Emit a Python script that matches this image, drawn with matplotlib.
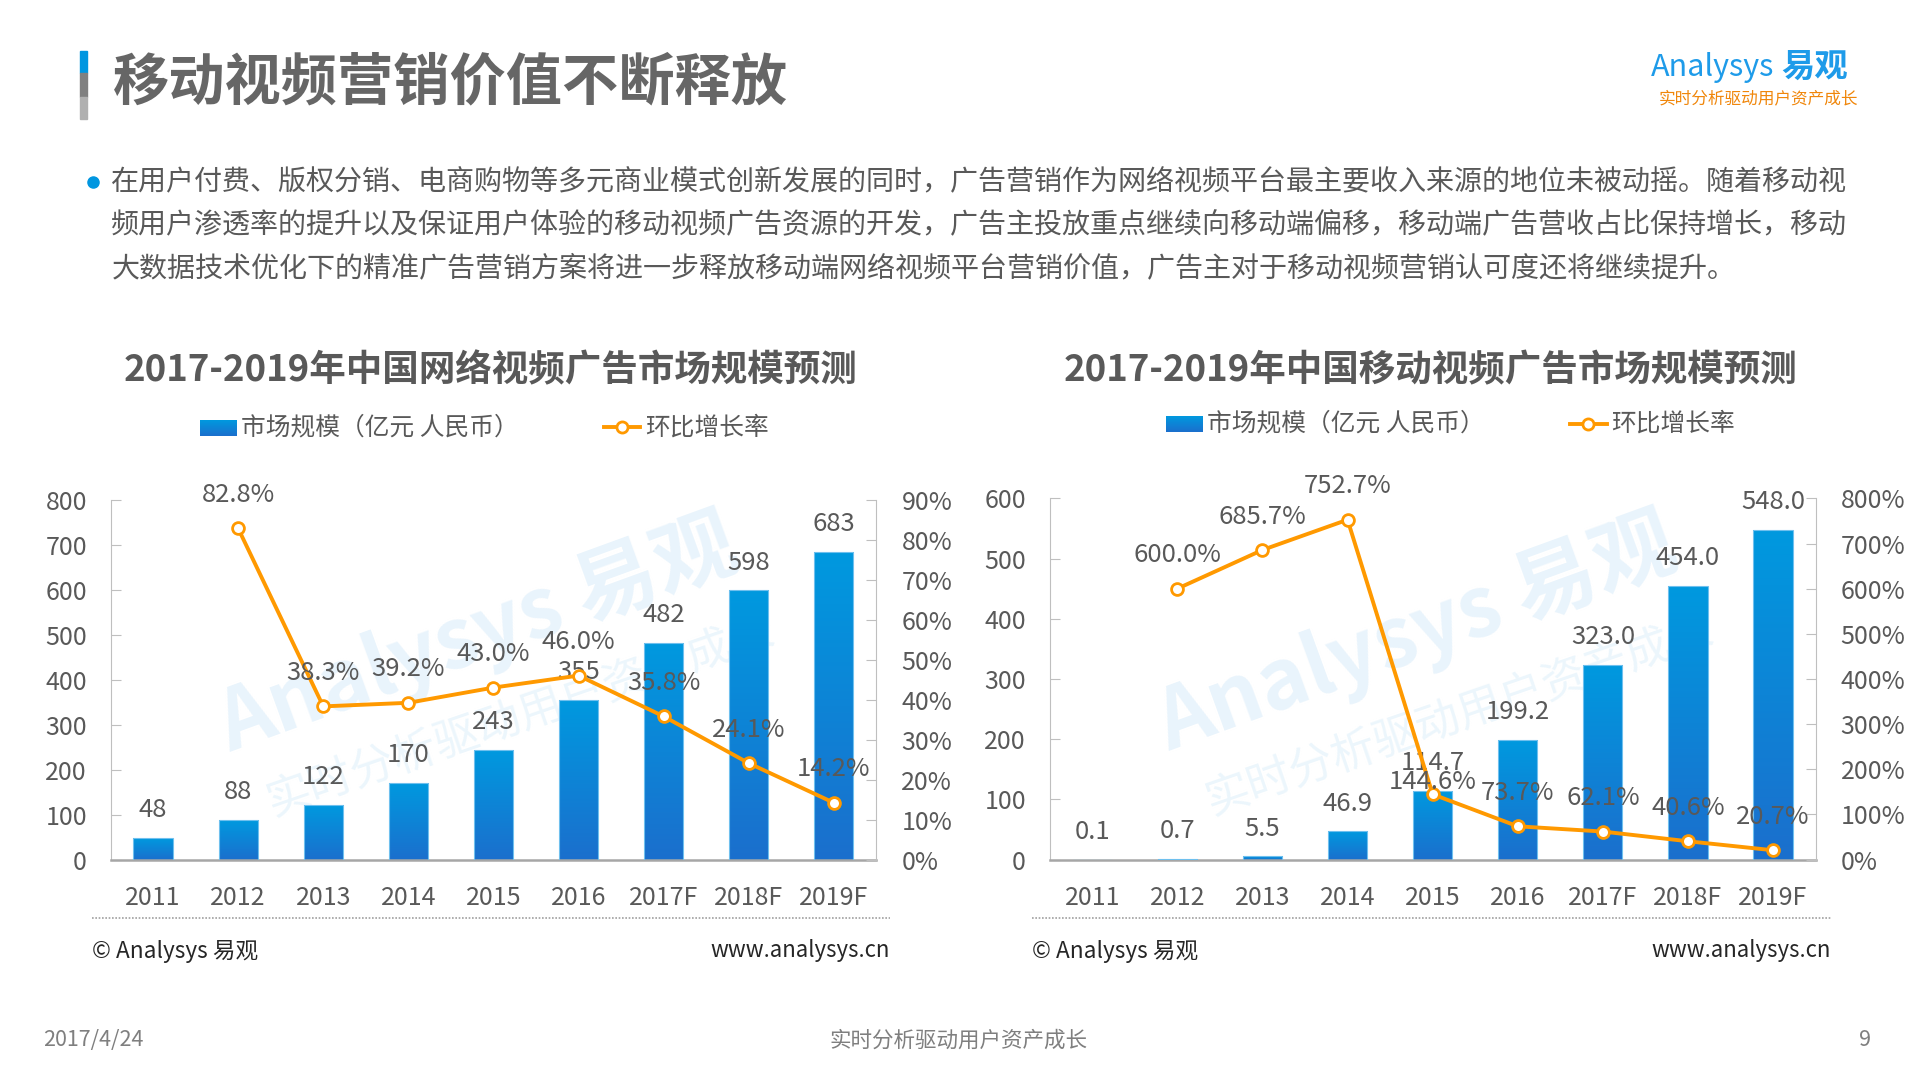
import numpy as np
import matplotlib
matplotlib.use('Agg')
import matplotlib.pyplot as plt
from matplotlib.colors import LinearSegmentedColormap
from matplotlib.lines import Line2D
from matplotlib.patches import Rectangle
from matplotlib.ticker import PercentFormatter, MultipleLocator

plt.rcParams['font.family'] = ['Noto Sans CJK SC', 'DejaVu Sans']

# --- data ---
years = ['2011', '2012', '2013', '2014', '2015', '2016', '2017F', '2018F', '2019F']

web_size = [48, 88, 122, 170, 243, 355, 482, 598, 683]
web_growth = [np.nan, 82.8, 38.3, 39.2, 43.0, 46.0, 35.8, 24.1, 14.2]

mob_size = [0.1, 0.7, 5.5, 46.9, 114.7, 199.2, 323.0, 454.0, 548.0]
mob_growth = [np.nan, 600.0, 685.7, 752.7, 144.6, 73.7, 62.1, 40.6, 20.7]

title = '移动视频营销价值不断释放'
paragraph = [
    '在用户付费、版权分销、电商购物等多元商业模式创新发展的同时，广告营销作为网络视频平台最主要收入来源的地位未被动摇。随着移动视',
    '频用户渗透率的提升以及保证用户体验的移动视频广告资源的开发，广告主投放重点继续向移动端偏移，移动端广告营收占比保持增长，移动',
    '大数据技术优化下的精准广告营销方案将进一步释放移动端网络视频平台营销价值，广告主对于移动视频营销认可度还将继续提升。',
]
chart_titles = ['2017-2019年中国网络视频广告市场规模预测', '2017-2019年中国移动视频广告市场规模预测']
legend_bar = '市场规模（亿元 人民币）'
legend_line = '环比增长率'

# --- style ---
GRAY = '#595959'
ORANGE = '#FF9900'
AXIS = '#BFBFBF'
bar_cmap = LinearSegmentedColormap.from_list('bar', ['#1B6FCD', '#0099DF'])
grad = np.linspace(0, 1, 256).reshape(-1, 1)

W, H = 1568, 882  # layout measured on a 1568x882 copy


def fx(x):
    return x / W


def fy(y):
    return 1 - y / H


fig = plt.figure(figsize=(19.2, 10.8), dpi=100)

# title with the three-colour accent bar
for y0, y1, c in [(42, 60, '#0096E0'), (60, 79, '#808080'), (79, 97, '#B0B0B0')]:
    fig.patches.append(Rectangle((fx(65), fy(y1)), fx(6), (y1 - y0) / H,
                                 transform=fig.transFigure, color=c))
fig.text(fx(92), fy(68), title, fontsize=40.5, fontweight='bold', color='#666666', va='center')

# logo
fig.text(fx(1449), fy(55), 'Analysys', fontsize=22, style='italic', color='#1E9BE9',
         ha='right', va='center')
fig.text(fx(1455), fy(55), '易观', fontsize=24, fontweight='bold', color='#1E9BE9', va='center')
fig.text(fx(1436), fy(81), '实时分析驱动用户资产成长', fontsize=12, style='italic',
         color='#F0860A', ha='center', va='center')

# paragraph
fig.add_artist(Line2D([fx(76)], [fy(149)], marker='o', markersize=8, color='#0096E0',
                      transform=fig.transFigure))
for i, line in enumerate(paragraph):
    fig.text(fx(91), fy(149 + 35 * i), line, fontsize=20.2, fontweight='light',
             color=GRAY, va='center')


def draw_chart(ax, sizes, growth, ymax, pmax, pstep, fmt, chart_title, title_x,
               legend_x, legend_y, pct_dy):
    x = np.arange(len(years))
    bars = ax.bar(x, sizes, width=0.46, color='none', edgecolor='#6FC0EE', linewidth=0.8, zorder=3)
    for b in bars:
        im = ax.imshow(grad, cmap=bar_cmap, aspect='auto', origin='lower',
                       extent=[b.get_x(), b.get_x() + b.get_width(), 0, b.get_height()], zorder=2)
        im.set_clip_path(b)
    for xi, v in zip(x, sizes):
        ax.annotate(fmt.format(v), (xi, v), xytext=(0, 20), textcoords='offset points',
                    ha='center', va='center', fontsize=18.5, color=GRAY, zorder=5)
    ax.set_xlim(-0.5, len(years) - 0.5)
    ax.set_ylim(0, ymax)
    ax.yaxis.set_major_locator(MultipleLocator(100))
    ax.set_xticks(x)
    ax.set_xticklabels(years)
    ax.tick_params(axis='x', length=0, labelsize=18, labelcolor=GRAY, pad=18)
    ax.tick_params(axis='y', direction='in', length=7, color=AXIS, labelsize=18,
                   labelcolor=GRAY, pad=17)
    ax.spines['top'].set_visible(False)
    ax.spines['right'].set_visible(False)
    ax.spines['left'].set_color(AXIS)
    ax.spines['bottom'].set_color('#A6A6A6')
    ax.spines['bottom'].set_linewidth(1.8)

    # watermark
    ax.text(0.48, 0.62, 'Analysys 易观', transform=ax.transAxes, fontsize=60, fontweight='bold',
            color='#E9F4FC', rotation=20, ha='center', va='center', zorder=0)
    ax.text(0.535, 0.40, '实时分析驱动用户资产成长', transform=ax.transAxes, fontsize=32,
            style='italic', color='#ECF6FC', rotation=19, ha='center', va='center', zorder=0)

    ax2 = ax.twinx()
    ax2.plot(x, growth, color=ORANGE, lw=2.8, marker='o', markersize=8.5,
             markerfacecolor='white', markeredgecolor=ORANGE, markeredgewidth=2, zorder=4)
    for xi, v, dy in zip(x, growth, pct_dy):
        if np.isnan(v):
            continue
        ax2.annotate(f'{v:.1f}%', (xi, v), xytext=(0, dy), textcoords='offset points',
                     ha='center', va='center', fontsize=18.5, color=GRAY, zorder=5)
    ax2.set_ylim(0, pmax)
    ax2.yaxis.set_major_locator(MultipleLocator(pstep))
    ax2.yaxis.set_major_formatter(PercentFormatter(xmax=100, decimals=0))
    ax2.tick_params(axis='y', direction='in', length=7, color=AXIS, labelsize=18,
                    labelcolor=GRAY, pad=18)
    for s in ['top', 'left', 'bottom']:
        ax2.spines[s].set_visible(False)
    ax2.spines['right'].set_color(AXIS)

    # chart title and legend
    fig.text(fx(title_x), fy(303), chart_title, fontsize=26.3,
             fontweight='bold', color=GRAY, ha='center', va='center')
    lax = fig.add_axes([fx(legend_x), fy(legend_y + 7), 30 / W, 13 / H])
    lax.imshow(grad, cmap=bar_cmap, aspect='auto', origin='lower')
    lax.axis('off')
    fig.text(fx(legend_x + 34), fy(legend_y), legend_bar, fontsize=17.8, color=GRAY, va='center')
    lx = legend_x + 330
    fig.add_artist(Line2D([fx(lx), fx(lx + 30)], [fy(legend_y)] * 2, color=ORANGE, lw=2.8,
                          transform=fig.transFigure))
    fig.add_artist(Line2D([fx(lx + 15)], [fy(legend_y)], marker='o', markersize=8,
                          markerfacecolor='white', markeredgecolor=ORANGE, markeredgewidth=2,
                          transform=fig.transFigure))
    fig.text(fx(lx + 34), fy(legend_y), legend_line, fontsize=17.8, color=GRAY, va='center')


ax_l = fig.add_axes([fx(90.25), fy(702), 625.5 / W, 294 / H])
draw_chart(ax_l, web_size, web_growth, 800, 90, 10, '{:.0f}', chart_titles[0], 401, 163, 349, [24] * 9)

pct_dy = [24] * 9
pct_dy[4] = 9  # the 144.6% label sits close to its point
ax_r = fig.add_axes([fx(857.25), fy(702), 625.5 / W, 295 / H])
draw_chart(ax_r, mob_size, mob_growth, 600, 800, 100, '{:.1f}', chart_titles[1], 1168, 952, 346, pct_dy)

# source lines and footers
for x0, x1 in [(75, 727), (843, 1495)]:
    fig.add_artist(Line2D([fx(x0), fx(x1)], [fy(750)] * 2, color='#A0A0A0', lw=1.2,
                          linestyle=(0, (1, 1)), transform=fig.transFigure))
    fig.text(fx(x0), fy(777), '© Analysys 易观', fontsize=16.3, color='#262626', va='center')
    fig.text(fx(x1), fy(776), 'www.analysys.cn', fontsize=16, color='#262626', va='center', ha='right')

fig.text(fx(35), fy(849), '2017/4/24', fontsize=15.5, color='#7F7F7F', va='center')
fig.text(fx(783), fy(850), '实时分析驱动用户资产成长', fontsize=15.5, color='#7F7F7F', va='center', ha='center')
fig.text(fx(1523), fy(849), '9', fontsize=15.5, color='#7F7F7F', va='center', ha='center')

fig.savefig('out.png', dpi=100, facecolor='white')
